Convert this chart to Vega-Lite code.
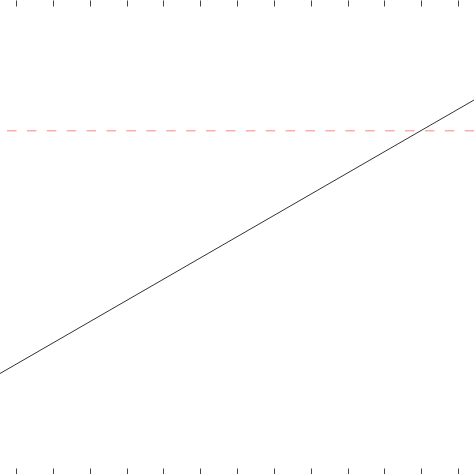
{
  "$schema": "https://vega.github.io/schema/vega-lite/v6.json",
  "width": 474,
  "height": 474,
  "padding": 0,
  "autosize": {"type": "none"},
  "background": "white",
  "config": {"view": {"stroke": null}},
  "datasets": {
    "line": [
      {"x": -0.434, "y": 21.2},
      {"x": 12.43, "y": 78.9}
    ],
    "ref": [
      {"x": -0.434, "y": 72.4},
      {"x": 12.43, "y": 72.4}
    ]
  },
  "layer": [
    {
      "data": {"name": "line"},
      "mark": {"type": "line", "color": "#333333", "strokeWidth": 1},
      "encoding": {
        "x": {
          "field": "x",
          "type": "quantitative",
          "scale": {"domain": [-0.434, 12.43], "nice": false, "zero": false},
          "axis": {
            "orient": "bottom",
            "values": [0,1,2,3,4,5,6,7,8,9,10,11,12],
            "labels": false,
            "domain": false,
            "grid": false,
            "title": null,
            "tickSize": -6,
            "tickColor": "#444444",
            "tickWidth": 1
          }
        },
        "y": {
          "field": "y",
          "type": "quantitative",
          "scale": {"domain": [0, 100], "nice": false, "zero": false},
          "axis": null
        }
      }
    },
    {
      "data": {"name": "ref"},
      "mark": {"type": "line", "color": "#e68c8c", "strokeWidth": 1, "strokeDash": [9.5, 10.4], "strokeDashOffset": 12.9},
      "encoding": {
        "x": {
          "field": "x",
          "type": "quantitative",
          "axis": {
            "orient": "top",
            "values": [0,1,2,3,4,5,6,7,8,9,10,11,12],
            "labels": false,
            "domain": false,
            "grid": false,
            "title": null,
            "tickSize": -6,
            "tickColor": "#444444",
            "tickWidth": 1
          }
        },
        "y": {"field": "y", "type": "quantitative"}
      }
    }
  ],
  "resolve": {"axis": {"x": "independent"}}
}
